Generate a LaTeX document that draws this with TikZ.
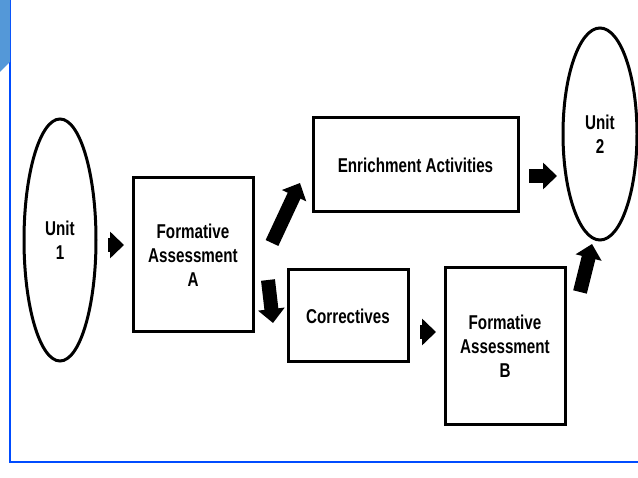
\documentclass[tikz,border=0pt]{standalone}
\usepackage{fontspec}
\setmainfont{Liberation Sans}[FakeStretch=0.76]
\usetikzlibrary{arrows.meta,shapes.geometric}
\begin{document}
\begin{tikzpicture}[x=1pt,y=-1pt,
  box/.style={draw,line width=3pt,minimum width=#1,inner sep=0pt,align=center,font=\bfseries\fontsize{20}{24}\selectfont},
  unit/.style={draw,line width=3pt,ellipse,inner sep=0pt,align=center,font=\bfseries\fontsize{20}{24}\selectfont},
  fat/.style={line width=14pt,-{Triangle[length=14pt,width=26pt]}}]
\useasboundingbox (0,0) rectangle (638,478);
\fill[white] (0,0) rectangle (638,478);
\draw[blue!70!cyan,line width=1.2pt] (10,0) -- (10,462) -- (638,462);
\fill[cyan!60!blue!70] (0,0) -- (10,0) -- (10,62) -- (0,72) -- cycle;
\node[unit,minimum width=72pt,minimum height=242pt] (u1) at (60,240) {Unit\\1};
\node[unit,minimum width=74pt,minimum height=212pt] (u2) at (600,134) {Unit\\2};
\node[box=120pt,minimum height=154pt] (fa) at (193,255) {Formative\\Assessment\\A};
\node[box=205pt,minimum height=94pt] (en) at (415.5,165) {Enrichment Activities};
\node[box=120pt,minimum height=92pt] (co) at (348,316) {Correctives};
\node[box=120pt,minimum height=157pt] (fb) at (505,346.5) {Formative\\Assessment\\B};
\coordinate (a1) at (108,245); \coordinate (a1e) at (124,245);
\draw[fat] (a1) -- (a1e);
\coordinate (a2) at (272,243); \coordinate (a2e) at (300,183);
\draw[fat] (a2) -- (a2e);
\coordinate (a3) at (529,176); \coordinate (a3e) at (557,176);
\draw[fat] (a3) -- (a3e);
\coordinate (a4) at (268,280); \coordinate (a4e) at (273,323);
\draw[fat] (a4) -- (a4e);
\coordinate (a5) at (420,332); \coordinate (a5e) at (436,332);
\draw[fat] (a5) -- (a5e);
\coordinate (a6) at (580,292); \coordinate (a6e) at (592,244);
\draw[fat] (a6) -- (a6e);
\end{tikzpicture}
\end{document}
